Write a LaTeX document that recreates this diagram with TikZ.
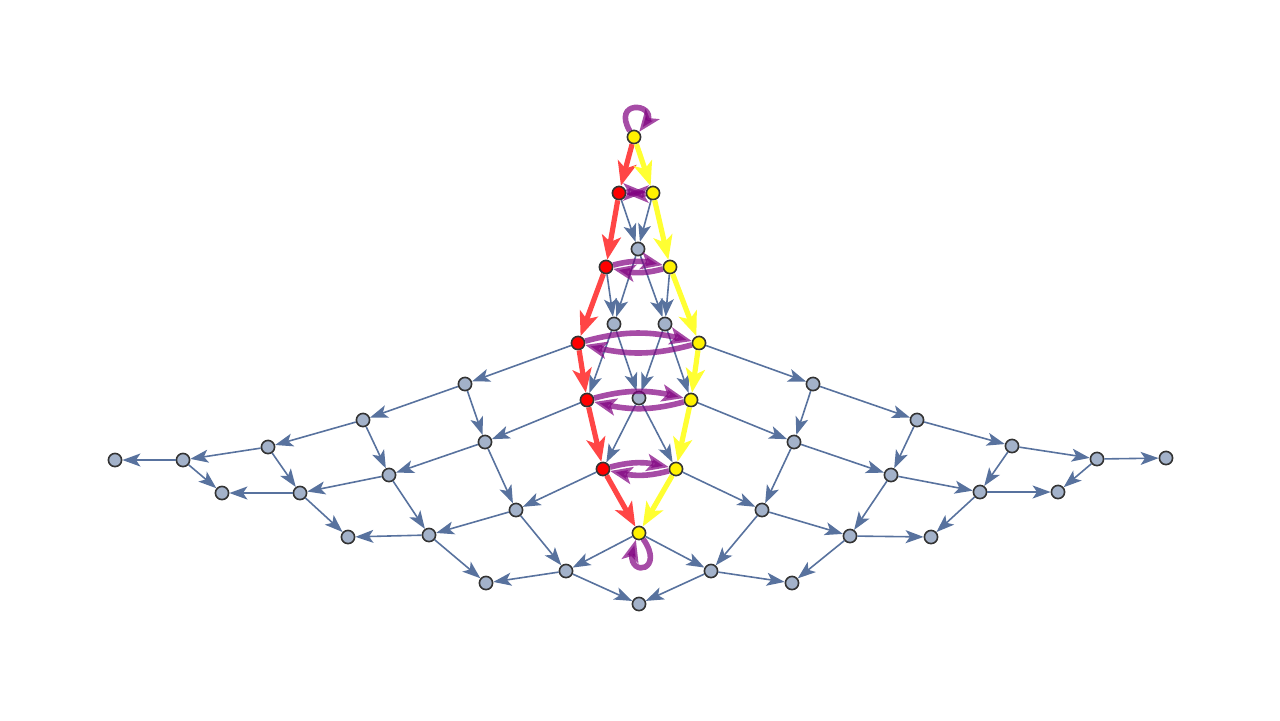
\documentclass[tikz,border=0pt]{standalone}
\usetikzlibrary{arrows.meta,bending}

\definecolor{edgeblue}{RGB}{88,114,158}
\definecolor{vertgray}{RGB}{163,178,202}
\definecolor{pathred}{RGB}{255,70,70}
\definecolor{pathyellow}{RGB}{255,255,50}
\definecolor{swappurple}{RGB}{128,0,128}

\begin{document}
\begin{tikzpicture}[x=0.5pt,y=0.5pt]
        \tikzset{
            vertex/.style={circle, draw=black!80, line width=0.8pt, fill=vertgray,
                minimum size=6.6pt, inner sep=0pt},
            red vertex/.style={vertex, fill=red},
            yellow vertex/.style={vertex, fill=yellow},
            thin edge/.style={draw=edgeblue, line width=0.8pt,
                -{Stealth[length=9pt, width=6.5pt, inset=2.2pt]}},
            red edge/.style={draw=pathred, line width=2.6pt,
                -{Stealth[length=12pt, width=9.5pt, inset=3pt]}},
            yellow edge/.style={red edge, draw=pathyellow},
            swap edge/.style={draw=swappurple, opacity=0.7, line width=2.8pt,
                -{Stealth[length=11pt, width=8.5pt, inset=2.5pt]}},
        }
        \useasboundingbox (0,0) rectangle (1280,-720);

        % gray vertices (pixel positions, y downwards)
        \foreach \n/\x/\y in {g1/638/249, g2a/614/324, g2b/665/324, g3/639/398, gbot/639/604,
                la1/465/384, la2/363/420, la3/268/447, la4/183/460, la5/115/460,
                lb1/485/442, lb2/389/475, lb3/300/493, lb4/222/493,
                lc1/516/510, lc2/429/535, lc3/348/537,
                ld1/566/571, ld2/486/583,
                ra1/813/384, ra2/917/420, ra3/1012/446, ra4/1097/459, ra5/1166/458,
                rb1/794/442, rb2/891/475, rb3/980/492, rb4/1058/492,
                rc1/762/510, rc2/850/536, rc3/931/537,
                rd1/711/571, rd2/792/583} {
            \node[vertex] (\n) at (\x,-\y) {};
        }
        % red and yellow vertices
        \foreach \n/\x/\y in {r1/619/193, r2/606/267, r3/578/343, r4/587/400, r5/603/469} {
            \node[red vertex] (\n) at (\x,-\y) {};
        }
        \foreach \n/\x/\y in {ytop/634/137, y1/653/193, y2/670/267, y3/699/343,
                y4/691/400, y5/676/469, ybot/639/533} {
            \node[yellow vertex] (\n) at (\x,-\y) {};
        }

        % plain edges
        \foreach \a/\b in {r1/g1, y1/g1, r2/g2a, g1/g2a, g1/g2b, y2/g2b,
                g2a/r4, g2a/g3, g2b/g3, g2b/y4, g3/r5, g3/y5,
                r3/la1, la1/la2, la2/la3, la3/la4, la4/la5,
                r4/lb1, lb1/lb2, lb2/lb3, lb3/lb4,
                r5/lc1, lc1/lc2, lc2/lc3, ybot/ld1, ld1/ld2,
                la1/lb1, la2/lb2, la3/lb3, la4/lb4, lb1/lc1, lb2/lc2, lb3/lc3,
                lc1/ld1, lc2/ld2, ld1/gbot,
                y3/ra1, ra1/ra2, ra2/ra3, ra3/ra4, ra4/ra5,
                y4/rb1, rb1/rb2, rb2/rb3, rb3/rb4,
                y5/rc1, rc1/rc2, rc2/rc3, ybot/rd1, rd1/rd2,
                ra1/rb1, ra2/rb2, ra3/rb3, ra4/rb4, rb1/rc1, rb2/rc2, rb3/rc3,
                rc1/rd1, rc2/rd2, rd1/gbot} {
            \draw[thin edge] (\a) -- (\b);
        }

        % the two paths
        \foreach \a/\b in {ytop/r1, r1/r2, r2/r3, r3/r4, r4/r5, r5/ybot} {
            \draw[red edge] (\a) -- (\b);
        }
        \foreach \a/\b in {ytop/y1, y1/y2, y2/y3, y3/y4, y4/y5, y5/ybot} {
            \draw[yellow edge] (\a) -- (\b);
        }

        % swaps between the paths
        \draw[swap edge] (y1) to[bend left=6] (r1);
        \draw[swap edge] (r1) to[bend left=6] (y1);
        \foreach \i in {2,...,5} {
            \draw[swap edge] (r\i) to[bend left=15] (y\i);
            \draw[swap edge] (y\i) to[bend left=15] (r\i);
        }
        \draw[swap edge] (ytop.125) .. controls +(120:42) and +(40:42) .. (ytop.45);
        \draw[swap edge] (ybot.-55) .. controls +(-55:44) and +(-115:44) .. (ybot.-115);
    \end{tikzpicture}
\end{document}
